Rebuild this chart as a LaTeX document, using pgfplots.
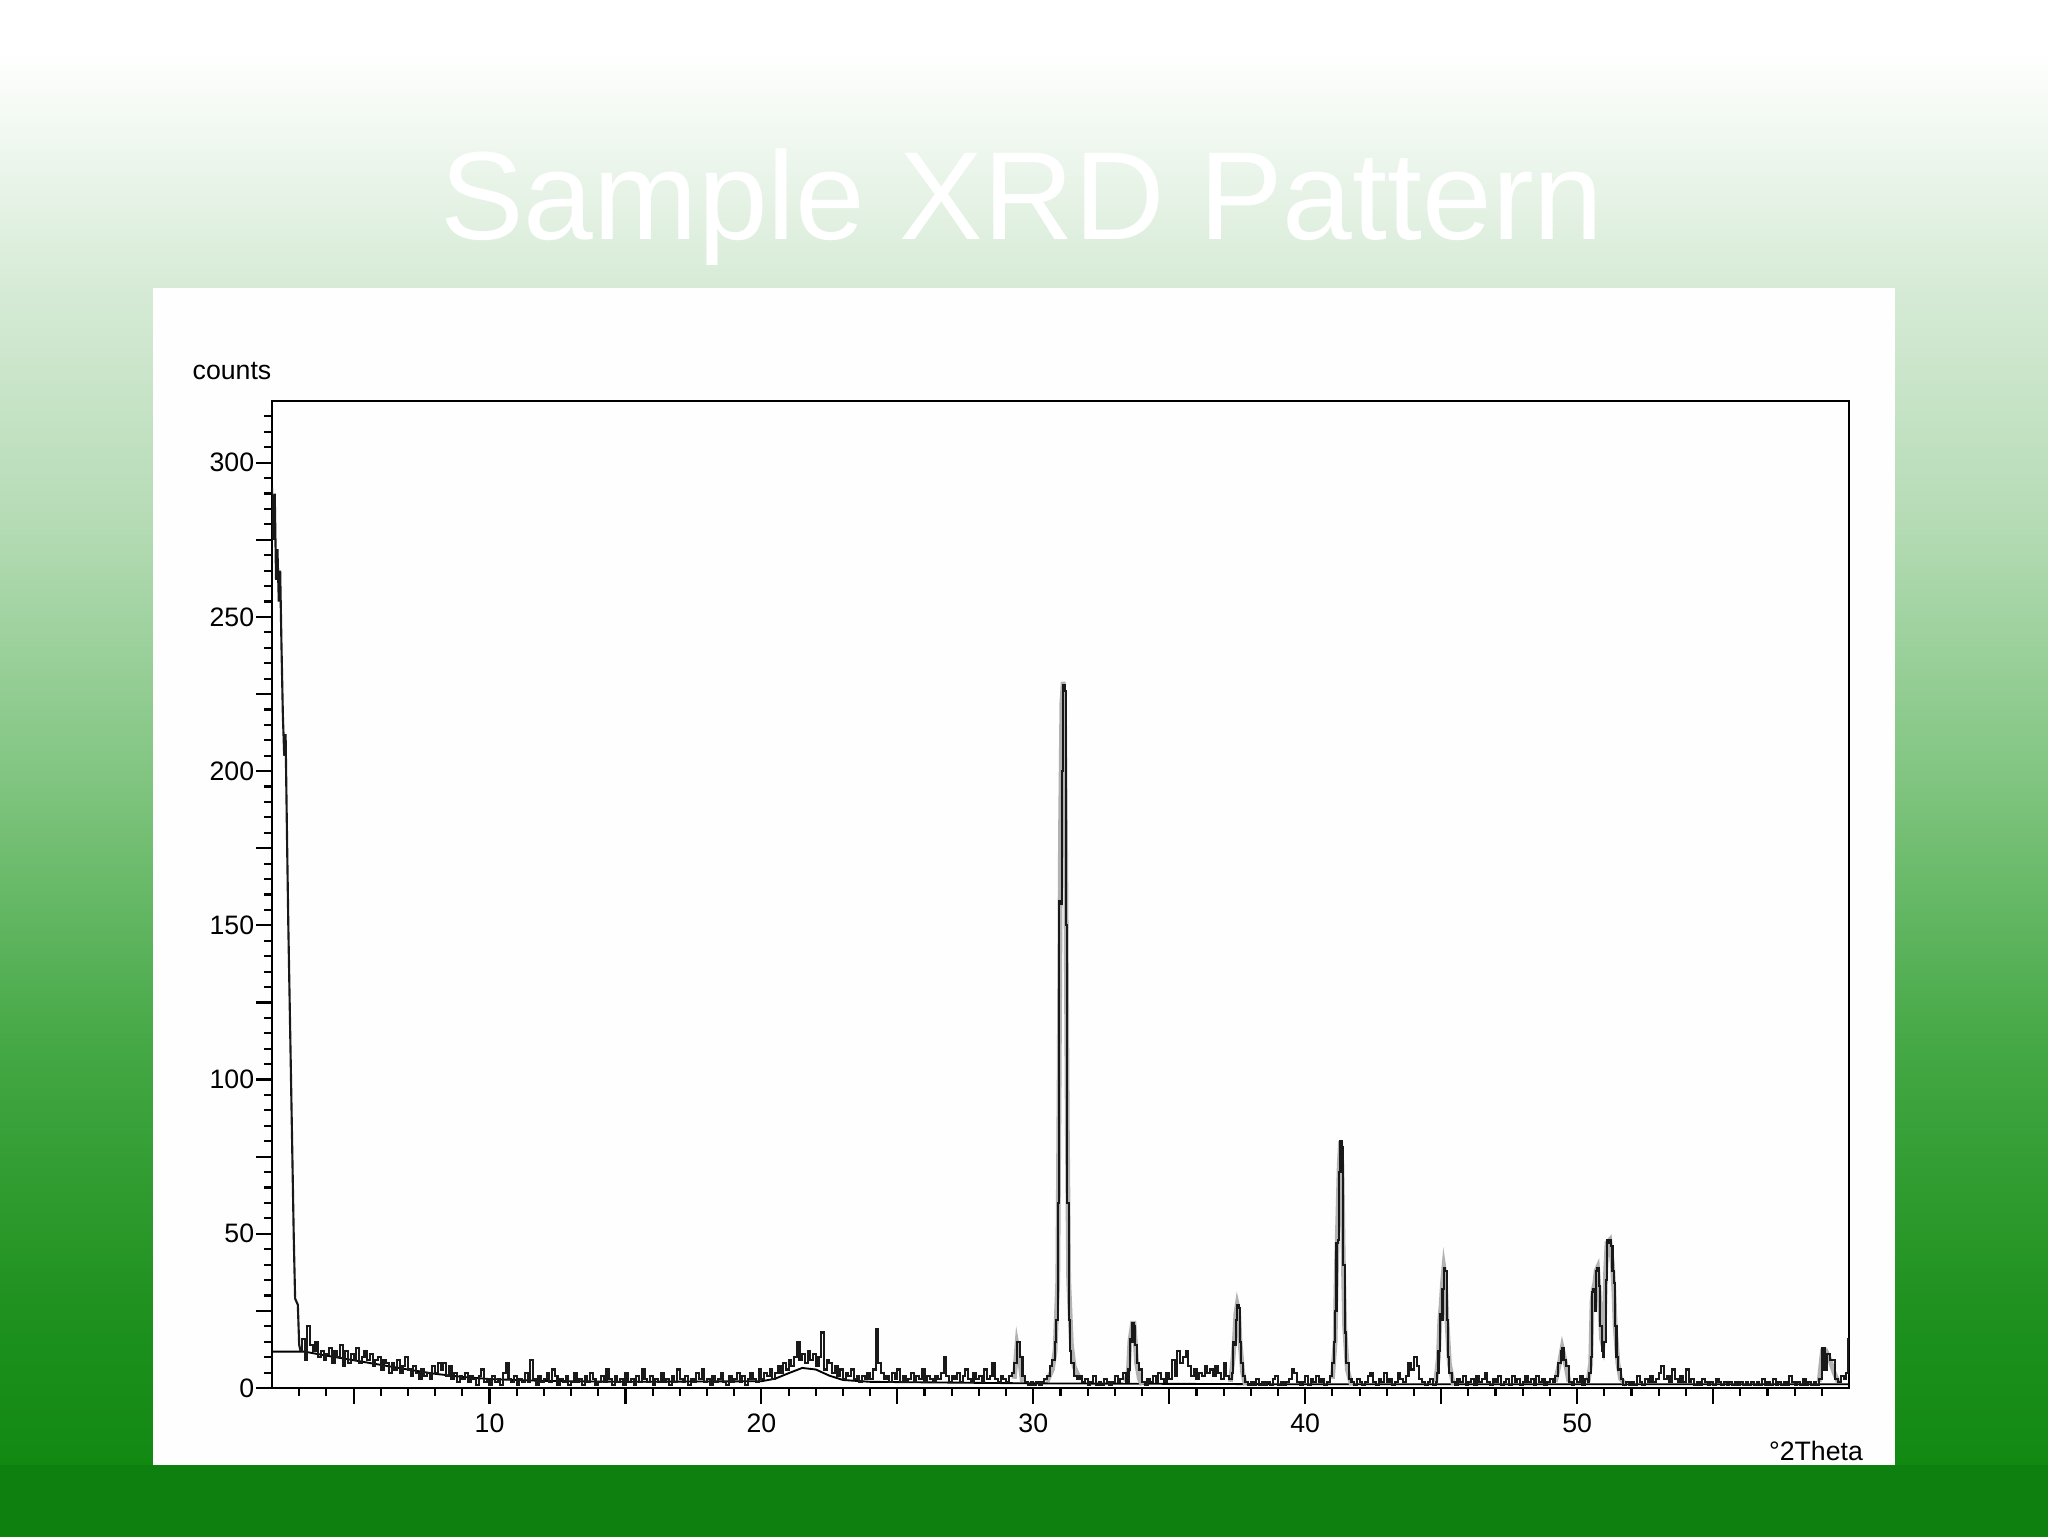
\documentclass[border=0pt]{standalone}
\usepackage{pgfplots}
\pgfplotsset{compat=1.18}
\usepackage{fontspec}
\setmainfont{Liberation Sans}
\pgfdeclareverticalshading{bgshade}{100bp}{rgb(0bp)=(0.05,0.52,0.06); rgb(25bp)=(0.05,0.52,0.06); rgb(27.3bp)=(0.07,0.54,0.07); rgb(32.5bp)=(0.12,0.57,0.12); rgb(41.0bp)=(0.27,0.66,0.27); rgb(49.5bp)=(0.50,0.77,0.50); rgb(58.0bp)=(0.71,0.86,0.71); rgb(65.63bp)=(0.84,0.92,0.84); rgb(73.37bp)=(1,1,1); rgb(100bp)=(1,1,1)}
\definecolor{stripgreen}{RGB}{13,128,15}
\definecolor{trace}{RGB}{25,25,25}
\begin{document}
\begin{tikzpicture}
\useasboundingbox (0,0) rectangle (768pt,576pt);
\fill[shading=bgshade] (0,0) rectangle (768pt,576pt);
\fill[stripgreen] (0,0) rectangle (768pt,26.625pt);
\fill[white!99!gray] (57.375pt,26.625pt) rectangle (710.625pt,468pt);
\node[anchor=base, text=white, font=\fontsize{47}{51}\selectfont, inner sep=0pt] at (383.25pt,486pt) {Sample XRD Pattern};
\node[anchor=base, font=\fontsize{10}{12}\selectfont, inner sep=0pt] at (87pt,433.5pt) {counts};
\node[anchor=base, font=\fontsize{10}{12}\selectfont, inner sep=0pt] at (681pt,28.5pt) {°2Theta};
\begin{axis}[
  at={(102pt,55.5pt)}, anchor=south west,
  width=591.375pt, height=370.125pt, scale only axis,
  xmin=2, xmax=60, ymin=0, ymax=320,
  xtick={10,20,30,40,50}, ytick={0,50,...,300},
  minor xtick={3,4,...,59}, minor ytick={5,10,...,315},
  extra x ticks={5,15,25,35,45,55}, extra x tick labels={},
  extra y ticks={25,75,125,175,225,275}, extra y tick labels={},
  tick align=outside, xtick pos=bottom, ytick pos=left,
  major tick length=6pt, minor tick length=3pt,
  axis line style={line width=1pt},
  every tick/.style={black, line width=0.8pt},
  tick label style={font=\fontsize{10}{12}\selectfont},
  yticklabel style={inner xsep=0.5pt},
  /pgf/number format/assume math mode=true,
  clip=true,
]
% fitted background
\addplot[black, line width=0.7pt] coordinates {(2,11.8)(3.2,11.8)(3.5,11.3)(4,10.5)(5,9)(6,7.5)(7,6)(8,4.6)(9,3.6)(10,2.9)(12,2.3)(15,2)(20,2.2)(20.5,3)(21,4.8)(21.5,6.5)(22,6)(22.5,4)(23,2.6)(24,2)(30,1.5)(40,1.2)(50,1.2)(60,1.2)};
% fitted peak profiles (grey)
\pgfplotsset{profile/.style={gray!60, line width=1.8pt}}
\addplot[profile] coordinates {(30.5,2)(30.7,6)(30.8,12)(30.9,35)(30.95,100)(31.0,180)(31.05,222)(31.1,229)(31.15,215)(31.2,160)(31.25,85)(31.3,35)(31.4,14)(31.5,7)(31.7,3)};
\addplot[profile] coordinates {(33.4,2)(33.5,6)(33.55,15)(33.6,18)(33.65,21)(33.7,21)(33.75,15)(33.8,8)(33.9,3)(34.0,1)};
\addplot[profile] coordinates {(37.25,2)(37.35,10)(37.4,16)(37.45,24)(37.5,27)(37.55,25)(37.6,15)(37.7,5)(37.8,1)};
\addplot[profile] coordinates {(41.0,3)(41.1,15)(41.15,40)(41.2,55)(41.25,72)(41.3,80)(41.35,72)(41.4,42)(41.45,20)(41.55,6)(41.7,1)};
\addplot[profile] coordinates {(44.8,2)(44.9,10)(44.95,22)(45.0,27)(45.05,34)(45.1,39)(45.15,36)(45.2,24)(45.3,8)(45.45,1)};
\addplot[profile] coordinates {(49.2,2)(49.35,8)(49.45,13)(49.55,9)(49.7,2)};
\addplot[profile] coordinates {(50.4,2)(50.5,8)(50.55,28)(50.6,32)(50.65,34)(50.7,38)(50.75,39)(50.8,33)(50.85,24)(50.9,16)(50.95,14)(51.0,20)(51.05,38)(51.1,47)(51.2,48)(51.3,40)(51.35,32)(51.4,20)(51.5,8)(51.6,3)(51.8,1)};
\addplot[profile] coordinates {(58.9,2)(59.0,10)(59.1,8)(59.2,11)(59.3,9)(59.45,5)(59.6,2)};
\addplot[profile] coordinates {(29.3,3)(29.4,14)(29.5,9)(29.6,2)};
% low-angle decay
\addplot[trace, line width=0.8pt] coordinates {(2.0,292)(2.05,275)(2.1,290)(2.15,262)(2.2,272)(2.25,255)(2.3,265)(2.35,240)(2.4,218)(2.45,205)(2.5,212)(2.55,180)(2.6,150)(2.7,100)(2.8,49)(2.85,29)(2.9,28)(2.95,27)(3.0,14)(3.05,12)};
% measured counts
\addplot[trace, line width=0.8pt, const plot] coordinates {
(3.05,12)(3.1,16)(3.2,9)(3.3,20)(3.4,14)(3.5,12)(3.6,15)(3.7,10)(3.8,12)(3.9,9)(4.0,11)(4.1,13)(4.2,8)(4.3,12)(4.4,10)(4.5,14)(4.6,7)(4.7,12)(4.8,8)(4.9,11)
(5.0,9)(5.1,13)(5.2,8)(5.3,10)(5.4,12)(5.5,9)(5.6,11)(5.7,7)(5.8,9)(5.9,10)(6.0,6)(6.1,9)(6.2,8)(6.3,5)(6.4,8)(6.5,6)(6.6,9)(6.7,5)(6.8,7)(6.9,10)
(7.0,6)(7.1,4)(7.2,7)(7.3,5)(7.4,3)(7.5,6)(7.6,4)(7.7,5)(7.8,3)(7.9,7)(8.0,5)(8.1,8)(8.2,6)(8.3,8)(8.4,4)(8.5,7)(8.6,3)(8.7,5)(8.8,2)(8.9,4)
(9.0,3)(9.1,5)(9.2,2)(9.3,4)(9.4,3)(9.5,1)(9.6,4)(9.7,6)(9.8,2)(9.9,3)(10.0,1)(10.1,4)(10.2,2)(10.3,3)(10.4,1)(10.5,5)(10.6,8)(10.7,3)(10.8,2)(10.9,4)
(11.0,1)(11.1,3)(11.2,2)(11.3,5)(11.4,2)(11.5,9)(11.6,3)(11.7,1)(11.8,4)(11.9,2)(12.0,3)(12.1,5)(12.2,2)(12.3,6)(12.4,4)(12.5,1)(12.6,3)(12.7,2)(12.8,4)(12.9,1)
(13.0,2)(13.1,5)(13.2,2)(13.3,3)(13.4,1)(13.5,4)(13.6,2)(13.7,5)(13.8,3)(13.9,1)(14.0,2)(14.1,4)(14.2,2)(14.3,6)(14.4,3)(14.5,1)(14.6,4)(14.7,2)(14.8,3)(14.9,1)
(15.0,5)(15.1,2)(15.2,3)(15.3,1)(15.4,4)(15.5,2)(15.6,6)(15.7,3)(15.8,2)(15.9,4)(16.0,1)(16.1,3)(16.2,2)(16.3,5)(16.4,2)(16.5,3)(16.6,1)(16.7,4)(16.8,2)(16.9,6)
(17.0,3)(17.1,2)(17.2,4)(17.3,1)(17.4,3)(17.5,2)(17.6,5)(17.7,3)(17.8,6)(17.9,2)(18.0,3)(18.1,1)(18.2,4)(18.3,2)(18.4,3)(18.5,5)(18.6,2)(18.7,1)(18.8,4)(18.9,2)
(19.0,3)(19.1,5)(19.2,2)(19.3,4)(19.4,1)(19.5,3)(19.6,5)(19.7,3)(19.8,2)(19.9,6)(20.0,3)(20.1,5)(20.2,4)(20.3,6)(20.4,3)(20.5,5)(20.6,7)(20.7,5)(20.8,8)(20.9,6)
(21.0,9)(21.1,7)(21.2,10)(21.3,15)(21.4,9)(21.5,11)(21.6,8)(21.7,12)(21.8,9)(21.9,11)(22.0,7)(22.1,10)(22.2,18)(22.3,6)(22.4,9)(22.5,8)(22.6,5)(22.7,7)(22.8,4)(22.9,6)
(23.0,3)(23.1,5)(23.2,4)(23.3,6)(23.4,3)(23.5,4)(23.6,2)(23.7,4)(23.8,3)(23.9,5)(24.0,3)(24.1,6)(24.2,19)(24.3,8)(24.4,5)(24.5,3)(24.6,4)(24.7,2)(24.8,5)(24.9,3)
(25.0,6)(25.1,2)(25.2,4)(25.3,2)(25.4,3)(25.5,5)(25.6,2)(25.7,4)(25.8,3)(25.9,6)(26.0,2)(26.1,4)(26.2,3)(26.3,2)(26.4,4)(26.5,3)(26.6,5)(26.7,10)(26.8,4)(26.9,2)
(27.0,4)(27.1,3)(27.2,5)(27.3,2)(27.4,4)(27.5,6)(27.6,3)(27.7,2)(27.8,5)(27.9,3)(28.0,4)(28.1,2)(28.2,6)(28.3,3)(28.4,4)(28.5,8)(28.6,3)(28.7,2)(28.8,4)(28.9,3)
(29.0,2)(29.1,4)(29.2,5)(29.3,8)(29.4,15)(29.5,10)(29.6,4)(29.7,2)(29.8,1)(29.9,2)(30.0,1)(30.1,2)(30.2,1)(30.3,2)(30.4,3)(30.5,4)(30.6,7)(30.7,9)(30.8,15)(30.85,22)
(30.9,60)(30.95,158)(31.0,157)(31.05,200)(31.1,228)(31.15,226)(31.2,150)(31.25,60)(31.3,22)(31.35,12)(31.4,8)(31.5,4)(31.6,3)(31.7,4)(31.8,2)(31.9,3)
(32.0,1)(32.1,2)(32.2,4)(32.3,1)(32.4,2)(32.5,1)(32.6,3)(32.7,2)(32.8,1)(32.9,2)(33.0,4)(33.1,2)(33.2,3)(33.3,5)(33.4,2)(33.5,6)(33.55,16)(33.6,15)(33.65,21)(33.7,20)(33.75,14)(33.8,8)(33.9,6)
(34.0,2)(34.1,1)(34.2,3)(34.3,2)(34.4,4)(34.5,2)(34.6,5)(34.7,3)(34.8,2)(34.9,5)(35.0,3)(35.1,9)(35.2,4)(35.3,12)(35.4,8)(35.5,10)(35.6,12)(35.7,7)(35.8,4)(35.9,6)
(36.0,3)(36.1,5)(36.2,4)(36.3,7)(36.4,5)(36.5,6)(36.6,4)(36.7,7)(36.8,5)(36.9,3)(37.0,8)(37.1,4)(37.2,3)(37.3,5)(37.35,15)(37.4,14)(37.45,22)(37.5,27)(37.55,26)(37.6,15)(37.65,8)(37.7,4)(37.8,2)(37.9,1)
(38.0,2)(38.1,1)(38.2,3)(38.3,1)(38.4,2)(38.5,1)(38.6,2)(38.7,1)(38.8,3)(38.9,4)(39.0,1)(39.1,2)(39.2,1)(39.3,2)(39.4,3)(39.5,6)(39.6,5)(39.7,2)(39.8,1)(39.9,2)
(40.0,4)(40.1,1)(40.2,3)(40.3,2)(40.4,4)(40.5,2)(40.6,3)(40.7,1)(40.8,2)(40.9,4)(41.0,8)(41.05,15)(41.1,25)(41.15,47)(41.2,48)(41.25,70)(41.3,80)(41.35,78)(41.4,40)(41.45,18)(41.5,8)(41.6,3)(41.7,2)(41.8,1)(41.9,3)
(42.0,2)(42.1,1)(42.2,2)(42.3,4)(42.4,5)(42.5,2)(42.6,1)(42.7,3)(42.8,2)(42.9,5)(43.0,2)(43.1,3)(43.2,1)(43.3,2)(43.4,5)(43.5,3)(43.6,2)(43.7,4)(43.8,8)(43.9,6)
(44.0,10)(44.1,7)(44.2,3)(44.3,2)(44.4,1)(44.5,2)(44.6,3)(44.7,1)(44.8,2)(44.85,5)(44.9,12)(44.95,24)(45.0,22)(45.05,32)(45.1,39)(45.15,38)(45.2,22)(45.25,10)(45.3,5)(45.4,2)
(45.5,1)(45.6,3)(45.7,2)(45.8,4)(45.9,1)(46.0,2)(46.1,3)(46.2,1)(46.3,4)(46.4,2)(46.5,3)(46.6,5)(46.7,2)(46.8,1)(46.9,3)(47.0,2)(47.1,4)(47.2,1)(47.3,2)(47.4,3)
(47.5,1)(47.6,4)(47.7,2)(47.8,3)(47.9,1)(48.0,2)(48.1,4)(48.2,2)(48.3,3)(48.4,1)(48.5,4)(48.6,2)(48.7,3)(48.8,1)(48.9,2)(49.0,3)(49.1,2)(49.2,4)(49.3,8)(49.4,12)(49.45,13)(49.5,9)(49.6,7)(49.7,2)(49.8,1)(49.9,3)
(50.0,2)(50.1,4)(50.2,1)(50.3,3)(50.4,2)(50.45,5)(50.5,10)(50.55,31)(50.6,32)(50.65,25)(50.7,38)(50.75,39)(50.8,33)(50.85,20)(50.9,12)(50.95,10)(51.0,15)(51.05,35)(51.1,48)(51.15,47)(51.2,48)(51.25,46)(51.3,38)(51.35,34)(51.4,20)(51.45,10)(51.5,6)(51.6,3)(51.7,1)(51.8,2)(51.9,1)
(52.0,2)(52.1,1)(52.2,4)(52.3,2)(52.4,1)(52.5,3)(52.6,2)(52.7,4)(52.8,2)(52.9,3)(53.0,5)(53.1,7)(53.2,3)(53.3,4)(53.4,2)(53.5,6)(53.6,3)(53.7,2)(53.8,4)(53.9,2)
(54.0,6)(54.1,2)(54.2,3)(54.3,1)(54.4,2)(54.5,1)(54.6,3)(54.7,2)(54.8,1)(54.9,2)(55.0,1)(55.1,3)(55.2,2)(55.3,1)(55.4,2)(55.5,1)(55.6,2)(55.7,1)(55.8,2)(55.9,1)
(56.0,2)(56.1,1)(56.2,2)(56.3,1)(56.4,2)(56.5,1)(56.6,2)(56.7,1)(56.8,3)(56.9,1)(57.0,2)(57.1,1)(57.2,3)(57.3,1)(57.4,2)(57.5,1)(57.6,2)(57.7,1)(57.8,4)(57.9,2)
(58.0,1)(58.1,2)(58.2,1)(58.3,3)(58.4,1)(58.5,2)(58.6,1)(58.7,2)(58.8,1)(58.9,3)(59.0,13)(59.1,6)(59.2,11)(59.3,9)(59.4,9)(59.5,3)(59.6,2)(59.7,4)(59.8,3)(59.9,5)(59.95,16)(60.0,14)
};
\end{axis}
\end{tikzpicture}
\end{document}
